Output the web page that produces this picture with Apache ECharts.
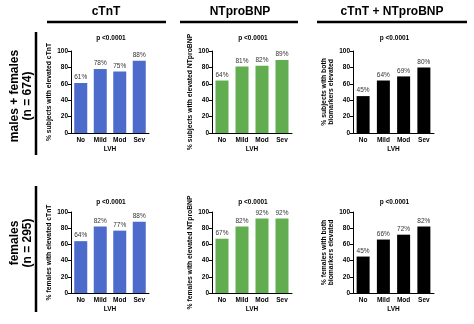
<!DOCTYPE html>
<html>
<head>
<meta charset="utf-8">
<script src="https://cdn.jsdelivr.net/npm/echarts@6/dist/echarts.min.js"></script>
<style>
  html, body { margin: 0; padding: 0; background: #fff; }
  #chart { width: 474px; height: 324px; }
</style>
</head>
<body>
<div id="chart"></div>
<script>
// LVH severity categories
const lvh = ['No', 'Mild', 'Mod', 'Sev'];

// % with elevated biomarkers, males + females (n = 674)
const ctntAll = [61, 78, 75, 88];
const bnpAll = [64, 81, 82, 89];
const bothAll = [45, 64, 69, 80];

// % with elevated biomarkers, females (n = 295)
const ctntFem = [64, 82, 77, 88];
const bnpFem = [67, 82, 92, 92];
const bothFem = [45, 66, 72, 82];

const columnTitles = ['cTnT', 'NTproBNP', 'cTnT + NTproBNP'];
const rowTitles = ['males + females\n(n = 674)', 'females\n(n = 295)'];
const pText = 'p <0.0001';
const yTicks = [0, 20, 40, 60, 80, 100];

const FONT = 'Liberation Sans, Arial, Helvetica, sans-serif';
const BLUE = '#4c6bcb';
const GREEN = '#61ad50';
const BLACK = '#000000';

const panels = [
  { row: 0, col: 0, data: ctntAll, color: BLUE,  yName: '% subjects with elevated cTnT' },
  { row: 0, col: 1, data: bnpAll,  color: GREEN, yName: '% subjects with elevated NTproBNP' },
  { row: 0, col: 2, data: bothAll, color: BLACK, yName: '% subjects with both\nbiomarkers elevated' },
  { row: 1, col: 0, data: ctntFem, color: BLUE,  yName: '% females with elevated cTnT' },
  { row: 1, col: 1, data: bnpFem,  color: GREEN, yName: '% females with elevated NTproBNP' },
  { row: 1, col: 2, data: bothFem, color: BLACK, yName: '% females with both\nbiomarkers elevated' }
];

// layout of the 2 x 3 panel grid
const gridLeft = [71, 212, 353];
const gridWidth = [78, 80, 81];
const gridTop = [51, 212];
const gridHeight = [82, 81];
const nameGaps = [17, 16, 13];
const pY = [38, 202];

const grids = [], xAxes = [], yAxes = [], series = [], graphics = [];

panels.forEach((p, i) => {
  grids.push({
    left: gridLeft[p.col], top: gridTop[p.row],
    width: gridWidth[p.col], height: gridHeight[p.row]
  });
  xAxes.push({
    gridIndex: i, type: 'category', data: lvh,
    axisLine: { lineStyle: { color: '#000', width: 1 } },
    axisTick: { show: false },
    axisLabel: { color: '#000', fontFamily: FONT, fontWeight: 'bold', fontSize: 6.5, margin: 4 },
    name: 'LVH', nameLocation: 'middle', nameGap: 13,
    nameTextStyle: { color: '#000', fontFamily: FONT, fontWeight: 'bold', fontSize: 6.5, verticalAlign: 'top' }
  });
  yAxes.push({
    gridIndex: i, type: 'value', min: yTicks[0], max: yTicks[yTicks.length - 1], interval: 20,
    axisLine: { show: true, lineStyle: { color: '#000', width: 1 } },
    axisTick: { show: true, length: 3, lineStyle: { color: '#000' } },
    splitLine: { show: false },
    axisLabel: { color: '#000', fontFamily: FONT, fontWeight: 'bold', fontSize: 6.5, margin: 3 },
    name: p.yName, nameLocation: 'middle', nameRotate: 90, nameGap: nameGaps[p.col],
    nameTextStyle: { color: '#000', fontFamily: FONT, fontWeight: 'bold', fontSize: 6.8, lineHeight: 7.5 }
  });
  series.push({
    type: 'bar', xAxisIndex: i, yAxisIndex: i, data: p.data,
    barWidth: 13,
    itemStyle: { color: p.color },
    label: {
      show: true, position: 'top', distance: 2,
      formatter: '{c}%', color: '#333', fontFamily: FONT, fontSize: 6.5
    },
    silent: true, animation: false
  });
  graphics.push({
    type: 'text',
    x: gridLeft[p.col] + gridWidth[p.col] / 2 + 1, y: pY[p.row],
    style: { text: pText, textAlign: 'center', textVerticalAlign: 'middle',
             font: 'bold 6.5px ' + FONT, fill: '#000' }
  });
});

// column headers with rules beneath
const titleX = [106, 240, 392];
const ruleSpan = [[47, 166], [180, 298], [317, 467]];
columnTitles.forEach((t, c) => {
  graphics.push({
    type: 'text', x: titleX[c], y: 12,
    style: { text: t, textAlign: 'center', textVerticalAlign: 'middle',
             font: 'bold 12px ' + FONT, fill: '#000' }
  });
  graphics.push({
    type: 'line',
    shape: { x1: ruleSpan[c][0], y1: 22, x2: ruleSpan[c][1], y2: 22 },
    style: { stroke: '#000', lineWidth: 2.5 }
  });
});

// row headers with vertical rules
const rowCenterY = [96, 243];
const rowRule = [[32, 155], [186, 312]];
rowTitles.forEach((t, r) => {
  graphics.push({
    type: 'text', x: 21, y: rowCenterY[r], rotation: Math.PI / 2,
    style: { text: t, textAlign: 'center', textVerticalAlign: 'middle',
             font: 'bold 12px ' + FONT, fill: '#000', lineHeight: 13 }
  });
  graphics.push({
    type: 'line',
    shape: { x1: 36, y1: rowRule[r][0], x2: 36, y2: rowRule[r][1] },
    style: { stroke: '#000', lineWidth: 2.5 }
  });
});

const chart = echarts.init(document.getElementById('chart'), null, { renderer: 'canvas' });
chart.setOption({
  backgroundColor: '#fff',
  animation: false,
  grid: grids,
  xAxis: xAxes,
  yAxis: yAxes,
  series: series,
  graphic: graphics
});
</script>
</body>
</html>
